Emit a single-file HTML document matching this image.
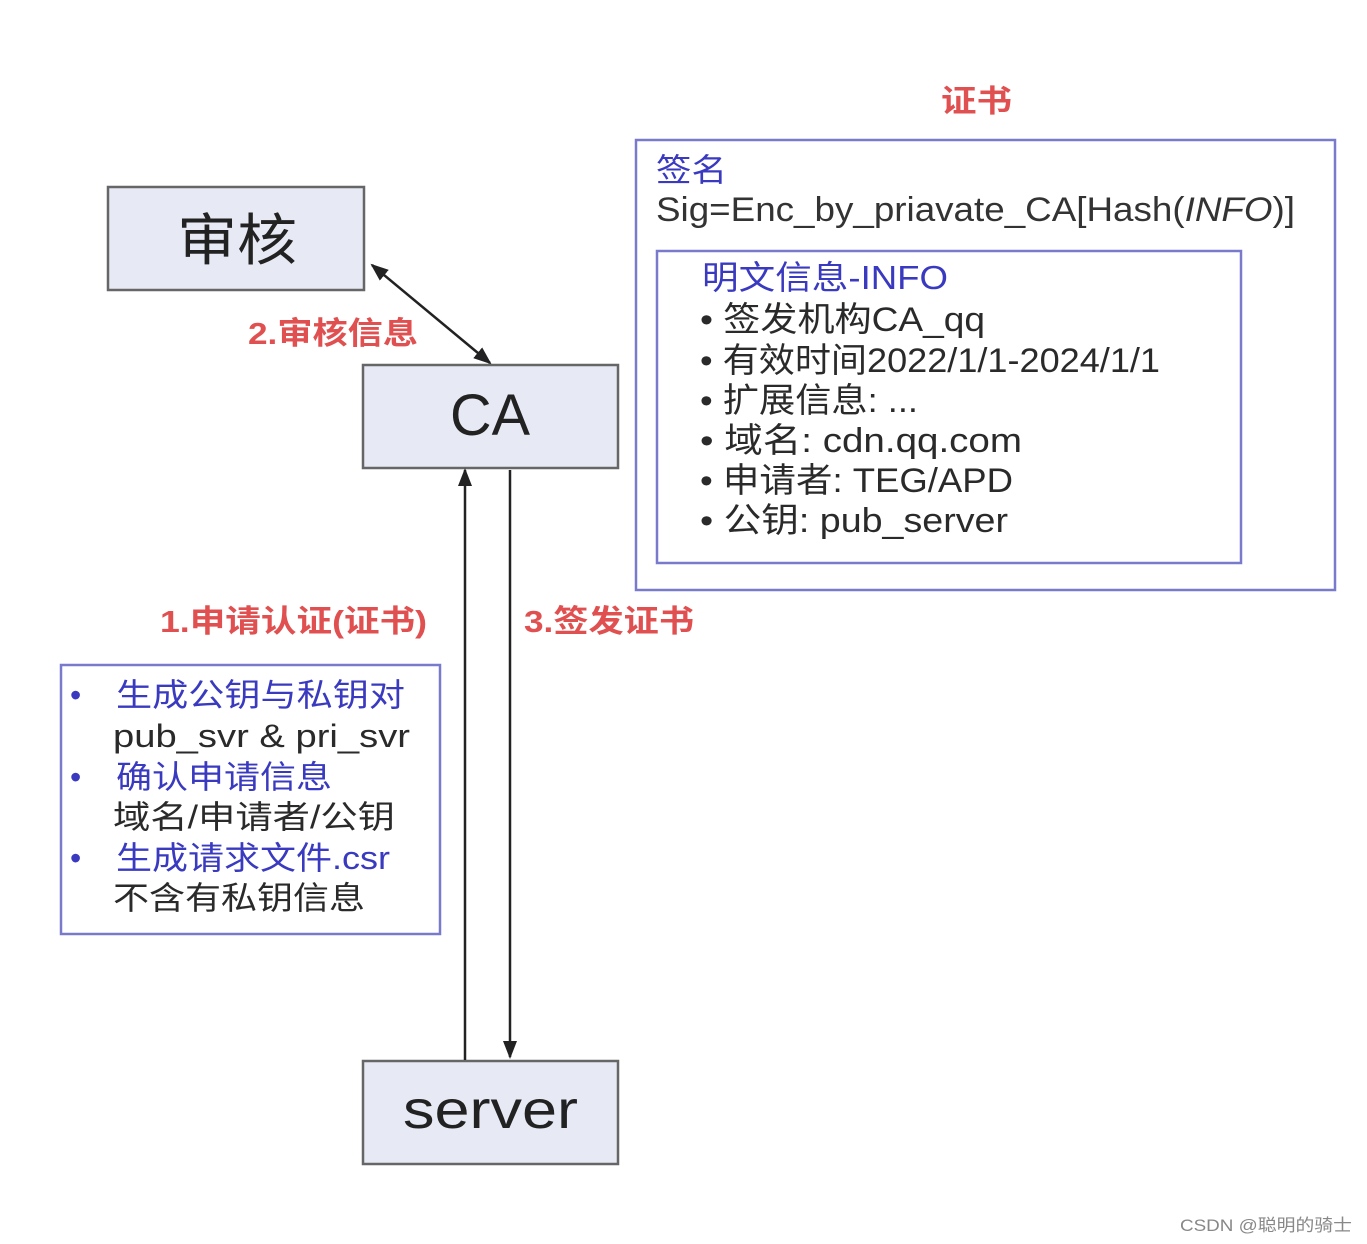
<!DOCTYPE html>
<html><head><meta charset="utf-8"><style>
html,body{margin:0;padding:0;background:#fff;}
svg{display:block;}
text{font-family:"Liberation Sans","Noto Sans CJK SC",sans-serif;}
</style></head><body>
<svg width="1367" height="1244" viewBox="0 0 1367 1244" xmlns="http://www.w3.org/2000/svg">
<defs>
<marker id="ah2" markerWidth="18" markerHeight="14" refX="16" refY="7" orient="auto-start-reverse" markerUnits="userSpaceOnUse">
<path d="M0,0 L18,7 L0,14 z" fill="#222"/>
</marker>
</defs>
<rect width="1367" height="1244" fill="#fff"/>
<rect x="108" y="187" width="256" height="103" fill="#e7eaf5" stroke="#666" stroke-width="2.5"/>
<text x="177" y="260" font-size="56" textLength="120" lengthAdjust="spacingAndGlyphs" fill="#222">审核</text>
<rect x="363" y="365" width="255" height="103" fill="#e7eaf5" stroke="#666" stroke-width="2.5"/>
<text x="450" y="435" font-size="58" textLength="80" lengthAdjust="spacingAndGlyphs" fill="#222">CA</text>
<rect x="363" y="1061" width="255" height="103" fill="#e7eaf5" stroke="#666" stroke-width="2.5"/>
<text x="403" y="1128" font-size="54" textLength="175" lengthAdjust="spacingAndGlyphs" fill="#222">server</text>
<line x1="372" y1="265" x2="490" y2="363" stroke="#222" stroke-width="2.5" marker-start="url(#ah2)" marker-end="url(#ah2)"/>
<line x1="465" y1="1060" x2="465" y2="470" stroke="#222" stroke-width="2.5" marker-end="url(#ah2)"/>
<line x1="510" y1="470" x2="510" y2="1057" stroke="#222" stroke-width="2.5" marker-end="url(#ah2)"/>
<g font-weight="bold" fill="#e05050" font-size="31">
<text x="941" y="112" textLength="71" lengthAdjust="spacingAndGlyphs">证书</text>
<text x="248" y="344" textLength="170" lengthAdjust="spacingAndGlyphs">2.审核信息</text>
<text x="160" y="632" textLength="267" lengthAdjust="spacingAndGlyphs">1.申请认证(证书)</text>
<text x="524" y="632" textLength="170" lengthAdjust="spacingAndGlyphs">3.签发证书</text>
</g>
<rect x="636" y="140" width="699" height="450" fill="#fff" stroke="#7a7acc" stroke-width="2.5"/>
<text x="656" y="181" font-size="32" fill="#3a3ac0" textLength="71" lengthAdjust="spacingAndGlyphs">签名</text>
<text x="656" y="221" font-size="34" fill="#333" textLength="639" lengthAdjust="spacingAndGlyphs">Sig=Enc_by_priavate_CA[Hash(<tspan font-style="italic">INFO</tspan>)]</text>
<rect x="657" y="251" width="584" height="312" fill="#fff" stroke="#7a7acc" stroke-width="2.5"/>
<text x="702" y="289" font-size="33" fill="#3a3ac0" textLength="246" lengthAdjust="spacingAndGlyphs">明文信息-INFO</text>
<g font-size="34" fill="#2a2a2a">
<text x="700" y="331" textLength="285" lengthAdjust="spacingAndGlyphs">• 签发机构CA_qq</text>
<text x="700" y="372" textLength="460" lengthAdjust="spacingAndGlyphs">• 有效时间2022/1/1-2024/1/1</text>
<text x="700" y="412" textLength="218" lengthAdjust="spacingAndGlyphs">• 扩展信息: ...</text>
<text x="700" y="452" textLength="322" lengthAdjust="spacingAndGlyphs">• 域名: cdn.qq.com</text>
<text x="700" y="492" textLength="313" lengthAdjust="spacingAndGlyphs">• 申请者: TEG/APD</text>
<text x="700" y="532" textLength="308" lengthAdjust="spacingAndGlyphs">• 公钥: pub_server</text>
</g>
<rect x="61" y="665" width="379" height="269" fill="#fff" stroke="#7a7acc" stroke-width="2.5"/>
<g font-size="32">
<text x="70" y="706" fill="#3a3ac0">•</text><text x="116" y="706" fill="#3a3ac0" textLength="289" lengthAdjust="spacingAndGlyphs">生成公钥与私钥对</text>
<text x="113" y="747" fill="#2a2a2a" textLength="297" lengthAdjust="spacingAndGlyphs">pub_svr &amp; pri_svr</text>
<text x="70" y="788" fill="#3a3ac0">•</text><text x="116" y="788" fill="#3a3ac0" textLength="216" lengthAdjust="spacingAndGlyphs">确认申请信息</text>
<text x="113" y="828" fill="#2a2a2a" textLength="282" lengthAdjust="spacingAndGlyphs">域名/申请者/公钥</text>
<text x="70" y="869" fill="#3a3ac0">•</text><text x="116" y="869" fill="#3a3ac0" textLength="274" lengthAdjust="spacingAndGlyphs">生成请求文件.csr</text>
<text x="113" y="909" fill="#2a2a2a" textLength="252" lengthAdjust="spacingAndGlyphs">不含有私钥信息</text>
</g>
<text x="1180" y="1231" font-size="17" fill="#888" textLength="172" lengthAdjust="spacingAndGlyphs">CSDN @聪明的骑士</text>
</svg>
</body></html>
